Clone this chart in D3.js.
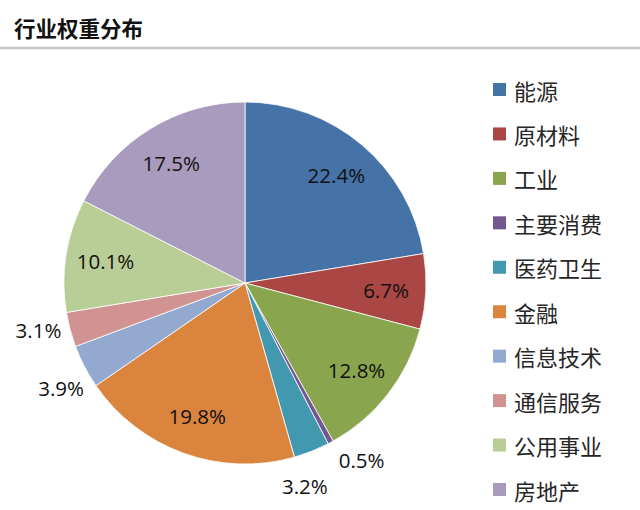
<!DOCTYPE html>
<html lang="zh">
<head>
<meta charset="utf-8">
<script src="https://d3js.org/d3.v7.min.js"></script>
<style>
  body { margin: 0; background: #fff; }
</style>
</head>
<body>
<script>
// chart data
var categories = ["能源", "原材料", "工业", "主要消费", "医药卫生", "金融", "信息技术", "通信服务", "公用事业", "房地产"];
var weights = [22.4, 6.7, 12.8, 0.5, 3.2, 19.8, 3.9, 3.1, 10.1, 17.5];
var colors = ["#4572A7", "#AA4643", "#89A54E", "#71588F", "#4198AF", "#DB843D", "#93A9CF", "#D19392", "#B9CD96", "#A99BBD"];

var w = 640, h = 510;
var cx = 245, cy = 283, r = 181;

var svg = d3.select("body").append("svg")
  .attr("width", w)
  .attr("height", h);

// title + rule
svg.append("text")
  .attr("x", 14)
  .attr("y", 27)
  .attr("dominant-baseline", "central")
  .attr("font-family", "'Noto Sans CJK SC', sans-serif")
  .attr("font-weight", "bold")
  .attr("font-size", "21.5px")
  .attr("fill", "#111")
  .text("行业权重分布");

svg.append("line")
  .attr("x1", 0).attr("x2", w)
  .attr("y1", 48).attr("y2", 48)
  .attr("stroke", "#c6c6c6")
  .attr("stroke-width", 2.5);

var data = categories.map(function(c, i) { return { name: c, value: weights[i], color: colors[i] }; });

var pie = d3.pie().sort(null).value(function(d) { return d.value; });
var arcs = pie(data);

var arc = d3.arc().innerRadius(0).outerRadius(r);

var g = svg.append("g").attr("transform", "translate(" + cx + "," + cy + ")");

g.selectAll("path")
  .data(arcs)
  .enter()
  .append("path")
  .attr("d", arc)
  .attr("fill", function(d) { return d.data.color; })
  .attr("stroke", "#fff")
  .attr("stroke-width", 0.8);

// label placement: inside for big slices, outside for small ones
var labels = arcs.map(function(d) {
  var mid = (d.startAngle + d.endAngle) / 2;
  var inside = d.data.value >= 5;
  return { d: d, angle: mid, dist: inside ? r * 0.78 : r * 1.17, inside: inside };
});

// spread crowded outside labels apart
var minGap = 17 * Math.PI / 180;
for (var i = 1; i < labels.length; i++) {
  var a = labels[i - 1], b = labels[i];
  if (!a.inside && !b.inside && b.angle - a.angle < minGap) {
    var m = (a.angle + b.angle) / 2;
    a.angle = m - minGap / 2;
    b.angle = m + minGap / 2;
  }
}

g.selectAll("text.lbl")
  .data(labels)
  .enter()
  .append("text")
  .attr("class", "lbl")
  .attr("x", function(l) { return l.dist * Math.sin(l.angle); })
  .attr("y", function(l) { return -l.dist * Math.cos(l.angle); })
  .attr("text-anchor", "middle")
  .attr("dominant-baseline", "central")
  .attr("font-family", "'Open Sans', sans-serif")
  .attr("font-size", "20.5px")
  .attr("fill", "#111")
  .text(function(l) { return l.d.data.value.toFixed(1) + "%"; });

// legend
var legendY = d3.scalePoint()
  .domain(categories)
  .range([89.5, 489.5]);

var legend = svg.append("g");

var items = legend.selectAll("g")
  .data(data)
  .enter()
  .append("g")
  .attr("transform", function(d) { return "translate(493," + legendY(d.name) + ")"; });

items.append("rect")
  .attr("x", 0)
  .attr("y", -6.5)
  .attr("width", 13)
  .attr("height", 13)
  .attr("fill", function(d) { return d.color; });

items.append("text")
  .attr("x", 21)
  .attr("y", 0)
  .attr("dominant-baseline", "central")
  .attr("font-family", "'Noto Sans CJK SC', sans-serif")
  .attr("font-size", "22px")
  .attr("fill", "#262626")
  .text(function(d) { return d.name; });
</script>
</body>
</html>
